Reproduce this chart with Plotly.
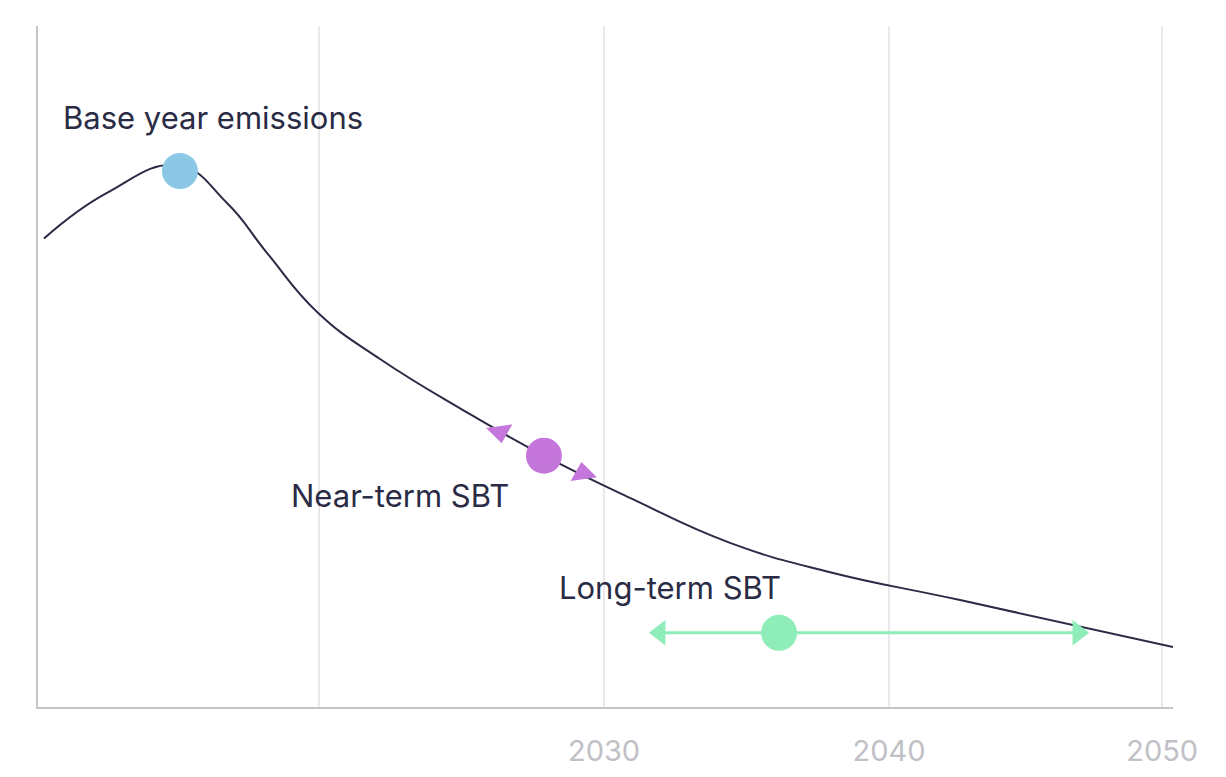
import plotly.graph_objects as go

# Emission pathway (year, relative emissions)
years = [2010.35, 2012.56, 2015.05, 2016.77, 2018.17, 2019.96, 2022.14, 2025.05,
         2027.89, 2030.91, 2034.42, 2037.93, 2042.49, 2049.96]
emissions = [68.8, 75.5, 79.5, 74.0, 66.7, 57.9, 51.1, 43.6,
             36.9, 30.7, 24.1, 19.8, 15.7, 8.8]

base_year = [2015.12]
base_value = [78.7]

near_year = [2027.89]
near_value = [36.9]
near_arrow_years = [2026.35, 2029.26]
near_arrow_values = [40.4, 34.3]

long_year = [2036.14]
long_value = [10.9]
long_arrow_years = [2031.96, 2046.63]
long_arrow_values = [10.9, 10.9]

tick_vals = [2020, 2030, 2040, 2049.58]
tick_text = ["", "2030", "2040", "2050"]

labels = ["Base year emissions", "Near-term SBT", "Long-term SBT"]
label_x = [2010.95, 2018.95, 2028.35]
label_y = [86.6, 31.1, 17.5]

NAVY = "#2a2b45"
BLUE = "#8cc8e6"
PURPLE = "#c476db"
GREEN = "#8eedb8"

fig = go.Figure()

fig.add_trace(go.Scatter(
    x=years, y=emissions, mode="lines",
    line=dict(color=NAVY, width=2, shape="spline", smoothing=1.3),
    hoverinfo="skip", showlegend=False))

fig.add_trace(go.Scatter(
    x=long_arrow_years, y=long_arrow_values, mode="lines+markers",
    line=dict(color=GREEN, width=3),
    marker=dict(symbol=["triangle-left", "triangle-right"], size=22, color=GREEN),
    hoverinfo="skip", showlegend=False))

fig.add_trace(go.Scatter(
    x=near_arrow_years, y=near_arrow_values, mode="markers",
    marker=dict(symbol=["triangle-down", "triangle-up"], size=23, color=PURPLE, angle=-8),
    hoverinfo="skip", showlegend=False))

for xs, ys, c in [(base_year, base_value, BLUE), (near_year, near_value, PURPLE), (long_year, long_value, GREEN)]:
    fig.add_trace(go.Scatter(
        x=xs, y=ys, mode="markers",
        marker=dict(size=36, color=c),
        hoverinfo="skip", showlegend=False))

for t, lx, ly in zip(labels, label_x, label_y):
    fig.add_annotation(x=lx, y=ly, text=t, showarrow=False, xanchor="left", yanchor="middle",
                       font=dict(family="Inter", size=31, color=NAVY))

fig.update_layout(
    width=1210, height=761,
    margin=dict(l=30, r=45, t=18, b=62, autoexpand=False),
    paper_bgcolor="white", plot_bgcolor="white",
    font=dict(family="Inter"),
    xaxis=dict(range=[2010.14, 2049.96], tickvals=tick_vals, ticktext=tick_text,
               showgrid=True, gridcolor="#e9e9ec", gridwidth=2,
               showline=True, linecolor="#c4c4ca", linewidth=2, automargin=False,
               ticks="", ticklabelstandoff=17, zeroline=False,
               tickfont=dict(family="Inter", size=29, color="#c0c0c6")),
    yaxis=dict(range=[0, 100], showgrid=False, showticklabels=False, automargin=False,
               showline=True, linecolor="#c4c4ca", linewidth=2, ticks="", zeroline=False),
)

fig.write_html("out.html")
